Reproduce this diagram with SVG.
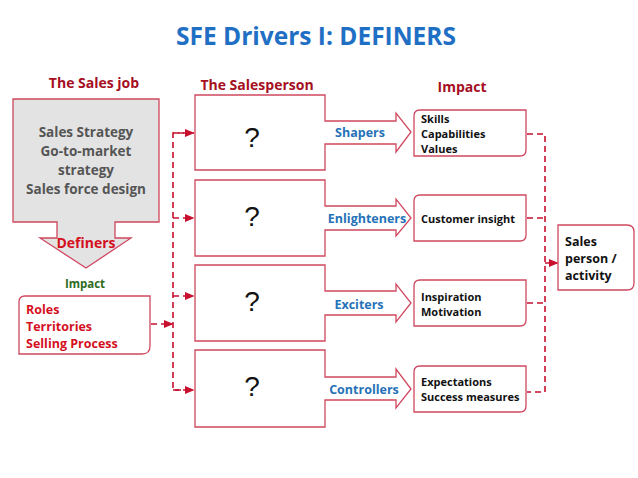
<svg xmlns="http://www.w3.org/2000/svg" width="638" height="478" viewBox="0 0 638 478">
<style>
text{font-family:"Open Sans","Liberation Sans",sans-serif;font-weight:bold}
.sh{fill:#fff;stroke:#d0485f;stroke-width:1.3}
.d{fill:none;stroke:#c8102e;stroke-width:1.6;stroke-dasharray:6,4}
.h{fill:#a50f1f;font-size:14px}
.b{fill:#2672b8;font-size:12.5px}
.k{fill:#111;font-size:11px}
.r{fill:#d4101e;font-size:12.5px}
.q{font-family:"Liberation Sans",sans-serif;font-weight:normal;font-size:28px;fill:#111}
</style>
<defs><marker id="a" markerWidth="6" markerHeight="6" refX="5" refY="3" orient="auto"><path d="M0,0.5L6,3L0,5.5z" fill="#c8102e"/></marker></defs>
<rect width="638" height="478" fill="#fff"/>
<text x="316" y="45" text-anchor="middle" style="font-size:24.5px;fill:#1f6fc5">SFE Drivers I: DEFINERS</text>
<text class="h" x="94" y="88" text-anchor="middle">The Sales job</text>
<text class="h" x="257" y="90" text-anchor="middle">The Salesperson</text>
<text class="h" x="462" y="92" text-anchor="middle">Impact</text>
<g id="salesjob">
<path d="M13,99H159V222H115V238H131L86,268L40,238H57V222H13Z" fill="#e3e3e3" stroke="#d0485f" stroke-width="1.3"/>
<text x="86" y="137" text-anchor="middle" style="font-size:13.5px;fill:#555">Sales Strategy</text>
<text x="86" y="156" text-anchor="middle" style="font-size:13.5px;fill:#555">Go-to-market</text>
<text x="86" y="175" text-anchor="middle" style="font-size:13.5px;fill:#555">strategy</text>
<text x="86" y="194" text-anchor="middle" style="font-size:13.5px;fill:#555">Sales force design</text>
<text x="86" y="248" text-anchor="middle" style="font-size:14px;fill:#d4101e">Definers</text>
</g>
<text x="85" y="288" text-anchor="middle" style="font-size:11.5px;fill:#2e6b1e">Impact</text>
<g id="roles">
<path class="sh" d="M25,296H150V346Q150,354 142,354H19V302Q19,296 25,296Z"/>
<text class="r" x="26" y="314">Roles</text>
<text class="r" x="26" y="331">Territories</text>
<text class="r" x="26" y="348">Selling Process</text>
</g>
<g id="sp1"><path class="sh" d="M195,95H325V121H396V113L411,132L396,152V144H325V170H195Z"/><text class="q" x="252" y="147" text-anchor="middle">?</text><text class="b" x="360" y="137" text-anchor="middle">Shapers</text></g>
<g id="sp2"><path class="sh" d="M195,180H325V206H396V199L411,218L396,236V230H325V256H195Z"/><text class="q" x="252" y="226" text-anchor="middle">?</text><text class="b" x="367" y="223" text-anchor="middle">Enlighteners</text></g>
<g id="sp3"><path class="sh" d="M195,265H325V291H396V284L411,303L396,322V315H325V341H195Z"/><text class="q" x="252" y="311" text-anchor="middle">?</text><text class="b" x="359" y="309" text-anchor="middle">Exciters</text></g>
<g id="sp4"><path class="sh" d="M195,350H325V377H396V369L411,389L396,408V400H325V427H195Z"/><text class="q" x="252" y="396" text-anchor="middle">?</text><text class="b" x="364" y="394" text-anchor="middle">Controllers</text></g>
<g id="imp1"><path class="sh" d="M420,110H526V150Q526,156 520,156H414V116Q414,110 420,110Z"/><text class="k" x="421" y="123">Skills</text><text class="k" x="421" y="138">Capabilities</text><text class="k" x="421" y="153">Values</text></g>
<g id="imp2"><path class="sh" d="M420,195H526V235Q526,241 520,241H414V201Q414,195 420,195Z"/><text class="k" x="421" y="223">Customer insight</text></g>
<g id="imp3"><path class="sh" d="M420,280H526V320Q526,326 520,326H414V286Q414,280 420,280Z"/><text class="k" x="421" y="301">Inspiration</text><text class="k" x="421" y="316">Motivation</text></g>
<g id="imp4"><path class="sh" d="M420,366H526V406Q526,412 520,412H414V372Q414,366 420,366Z"/><text class="k" x="421" y="386">Expectations</text><text class="k" x="421" y="401">Success measures</text></g>
<g id="sales"><path class="sh" d="M558,225H627Q634,225 634,232V283Q634,290 627,290H558Z"/><text x="565" y="246" style="font-size:12.5px;fill:#111">Sales</text><text x="565" y="263" style="font-size:12.5px;fill:#111">person  /</text><text x="565" y="280" style="font-size:12.5px;fill:#111">activity</text></g>
<g id="connectors">
<path class="d" d="M194,133H173V390H194"/>
<path class="d" d="M173,218H193" marker-end="url(#a)"/>
<path class="d" d="M173,133H193" marker-end="url(#a)"/>
<path class="d" d="M173,296H193" marker-end="url(#a)"/>
<path class="d" d="M173,390H193" marker-end="url(#a)"/>
<path class="d" d="M151,324H172" marker-end="url(#a)"/>
<path class="d" d="M527,134H545V392H527"/>
<path class="d" d="M527,218H545M527,303H545"/>
<path class="d" d="M545,263H557" marker-end="url(#a)"/>
</g>
</svg>
